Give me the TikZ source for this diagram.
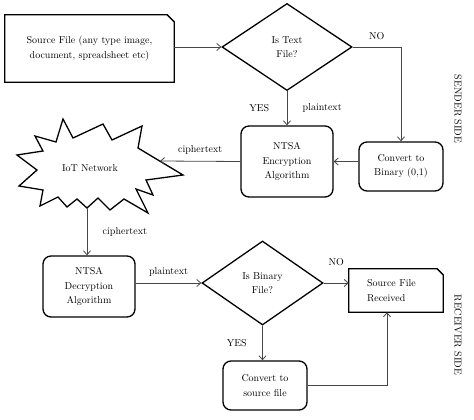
\documentclass[tikz,border=0pt]{standalone}
\usetikzlibrary{shapes, arrows.meta, positioning, calc}
\definecolor{linegray}{RGB}{70,70,70}

\begin{document}
\begin{tikzpicture}[x=1pt, y=-1pt,
  box/.style={draw, line width=1.3pt, rounded corners=8pt, align=center, inner sep=2pt, font=\linespread{1.2}\selectfont},
  decision/.style={draw, diamond, line width=1.3pt, align=center, inner sep=0pt, font=\linespread{1.2}\selectfont},
  snip/.style={inner sep=0pt, font=\linespread{1.2}\selectfont},
  flow/.style={draw=linegray, line width=0.8pt, -{Straight Barb[length=4pt, width=7pt]}},
  side/.style={rotate=-90}]
  \useasboundingbox (0,0) rectangle (474,420);

  % sender side
  \node[snip, minimum width=169pt, minimum height=67pt, text width=150pt, align=center] (src) at (89.5,48.5) {Source File (any type image,\\ document, spreadsheet etc)};
  \draw[line width=1.3pt] (src.south west) -- (src.north west) -- ([xshift=-7pt]src.north east) -- ([yshift=-7pt]src.north east) -- (src.south east) -- cycle;
  \node[decision, minimum width=130pt, minimum height=87pt] (istext) at (287,47) {Is Text\\File?};
  \node[box, minimum width=92pt, minimum height=71pt] (enc) at (287,161.5) {NTSA\\Encryption\\Algorithm};
  \node[box, minimum width=84pt, minimum height=49pt] (bin) at (401,166.5) {Convert to\\Binary (0,1)};

  % network
  \draw[line width=1.3pt, line join=miter] (63,119) -- (73,138) -- (103,124) -- (112,140) -- (142,126) -- (138,148)
    -- (183,175) -- (146,180) -- (153,195) -- (136,189) -- (148,213) -- (124,199) -- (110,210) -- (98,198)
    -- (87,208) -- (77,199) -- (67,207) -- (58,197) -- (40,206) -- (43,190) -- (19,186) -- (37,170)
    -- (17,155) -- (43,151) -- (35,136) -- (56,142) -- cycle;
  \node (iot) at (90,168) {IoT Network};
  \coordinate (iotin) at (160,161);
  \coordinate (iotout) at (87,208);

  % receiver side
  \node[box, minimum width=92pt, minimum height=61pt] (dec) at (89,286.5) {NTSA\\Decryption\\Algorithm};
  \node[decision, minimum width=121pt, minimum height=84pt] (isbin) at (262.5,283) {Is Binary\\File?};
  \node[snip, minimum width=94pt, minimum height=43pt, text width=58pt, inner xsep=18pt, align=left] (rec) at (396,290.5) {Source File\\Received};
  \draw[line width=1.3pt] (rec.south west) -- (rec.north west) -- ([xshift=-6pt]rec.north east) -- ([yshift=-6pt]rec.north east) -- (rec.south east) -- cycle;
  \node[box, minimum width=84pt, minimum height=49pt] (conv) at (265,385.5) {Convert to\\source file};

  \node[side] (sender) at (458,109) {SENDER SIDE};
  \node[side] (receiver) at (458,335) {RECEIVER SIDE};

  % connectors
  \draw[flow] (src.east |- istext.west) -- (istext.west);
  \draw[flow] (istext.east) -| node[pos=0.25, above=4pt] {NO} (bin.north);
  \draw[flow] (istext.south) -- node[left=14pt] {YES} node[right=12pt] {plaintext} (enc.north);
  \draw[flow] (bin.west |- enc.east) -- (enc.east);
  \draw[flow] (enc.west) -- node[above=3pt] {ciphertext} (iotin);
  \draw[flow] (iotout) -- node[right=12pt] {ciphertext} (iotout |- dec.north);
  \draw[flow] (dec.east |- isbin.west) -- node[above=3pt] {plaintext} (isbin.west);
  \draw[flow] (isbin.east) -- node[above=14pt] {NO} (rec.west |- isbin.east);
  \draw[flow] (isbin.south) -- node[left=12pt] {YES} (isbin.south |- conv.north);
  \draw[flow] (conv.east) -| ([xshift=-9pt]rec.south);
\end{tikzpicture}
\end{document}
